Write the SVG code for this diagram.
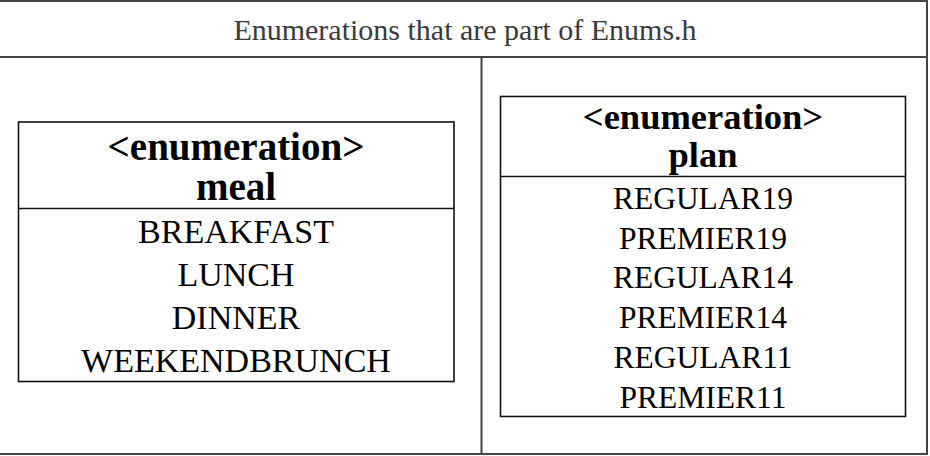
<svg xmlns="http://www.w3.org/2000/svg" width="930" height="456" viewBox="0 0 930 456">
<style>
.frame{fill:none;stroke:#444;stroke-width:2}
.box{fill:#fff;stroke:#111;stroke-width:1.6}
.title{font-family:"Liberation Serif",serif;font-size:30px;fill:#3a3a3a;text-anchor:middle}
.hd{font-family:"Liberation Serif",serif;font-weight:bold;fill:#000;text-anchor:middle}
.it{font-family:"Liberation Serif",serif;fill:#000;text-anchor:middle}
</style>
<rect width="930" height="456" fill="#fff"/>
<g id="table">
<line class="frame" x1="0" y1="1" x2="928" y2="1"/>
<line class="frame" x1="927" y1="0" x2="927" y2="455"/>
<line class="frame" x1="0" y1="454" x2="928" y2="454"/>
<line class="frame" x1="0" y1="57" x2="928" y2="57"/>
<line class="frame" x1="481.5" y1="57" x2="481.5" y2="454"/>
<text class="title" x="465" y="40">Enumerations that are part of Enums.h</text>
</g>
<g id="meal">
<rect class="box" x="18.5" y="122" width="435.5" height="259.5"/>
<line class="box" x1="18.5" y1="208.5" x2="454" y2="208.5"/>
<text class="hd" x="236" y="160" font-size="39">&lt;enumeration&gt;</text>
<text class="hd" x="236" y="200" font-size="39">meal</text>
<text class="it" x="236" y="243" font-size="34">BREAKFAST</text>
<text class="it" x="236" y="286" font-size="34">LUNCH</text>
<text class="it" x="236" y="329" font-size="34">DINNER</text>
<text class="it" x="236" y="372" font-size="34">WEEKENDBRUNCH</text>
</g>
<g id="plan">
<rect class="box" x="500.5" y="96.5" width="405" height="320"/>
<line class="box" x1="500.5" y1="176.5" x2="905.5" y2="176.5"/>
<text class="hd" x="703" y="129" font-size="36.5">&lt;enumeration&gt;</text>
<text class="hd" x="703" y="167" font-size="36.5">plan</text>
<text class="it" x="703" y="209" font-size="31.5">REGULAR19</text>
<text class="it" x="703" y="248.5" font-size="31.5">PREMIER19</text>
<text class="it" x="703" y="288" font-size="31.5">REGULAR14</text>
<text class="it" x="703" y="328" font-size="31.5">PREMIER14</text>
<text class="it" x="703" y="368" font-size="31.5">REGULAR11</text>
<text class="it" x="703" y="408" font-size="31.5">PREMIER11</text>
</g>
<g id="connectors"/>
</svg>
